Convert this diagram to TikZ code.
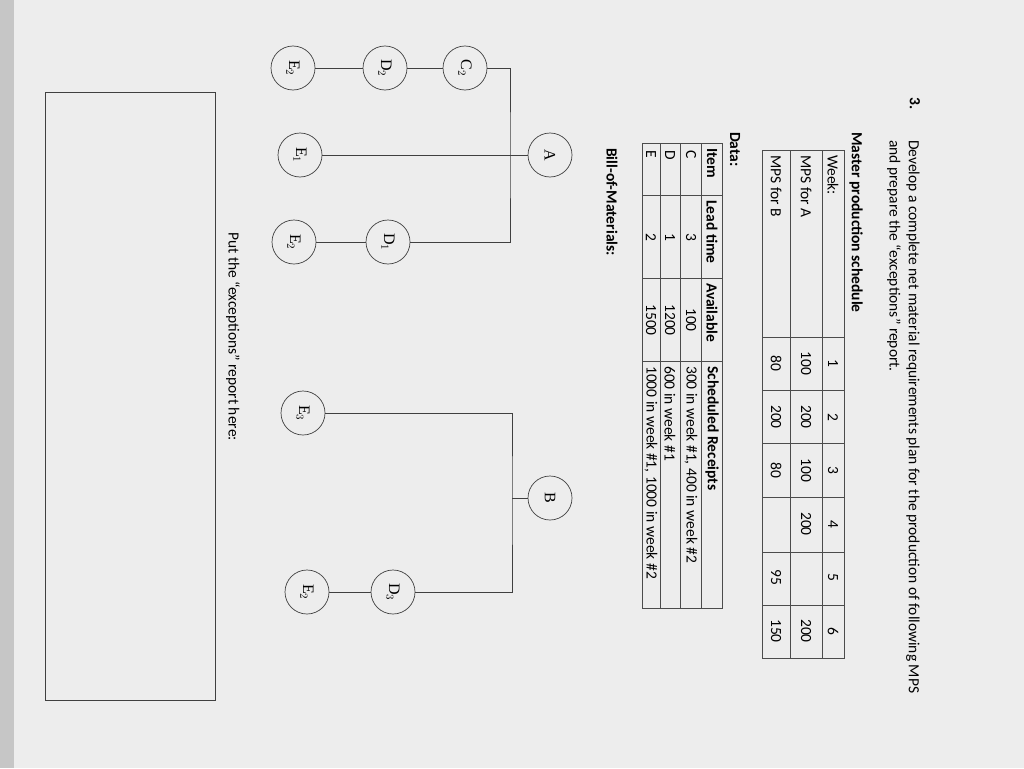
\documentclass[tikz,border=0pt]{standalone}
\usepackage{fontspec}
\setmainfont{Carlito}
\newfontfamily\serifb{Liberation Serif}
\begin{document}
\begin{tikzpicture}[x=1pt,y=-1pt,
  txt/.style={rotate=-90,anchor=west,inner sep=0pt,font=\fontsize{15.5}{17}\selectfont},
  bld/.style={txt,font=\fontsize{15.5}{17}\selectfont\bfseries},
  ctr/.style={txt,anchor=center},
  bom/.style={circle,draw=black!75,line width=0.7pt,minimum size=44pt,inner sep=0pt,rotate=-90,font=\serifb\fontsize{16}{17}\selectfont},
  ln/.style={draw=black!75,line width=0.7pt},
  grid/.style={draw=black!70,line width=0.7pt}]
\fill[gray!14] (0,0) rectangle (1024,768);
\fill[gray!45] (0,0) rectangle (14,768);
\useasboundingbox (0,0) rectangle (1024,768);
% heading
\node[bld] (num) at (915,97) {3.};
\node[txt] (l1) at (913,140) {Develop a complete net material requirements plan for the production of following MPS};
\node[txt] (l2) at (894,140) {and prepare the “exceptions” report.};
\node[bld] (mps) at (856,132) {Master production schedule};
% table 1
\draw[grid] (762,150) rectangle (844,658);
\foreach \x in {790,822} \draw[grid] (\x,150) -- (\x,658);
\foreach \y in {337,390,443,497,552,605} \draw[grid] (762,\y) -- (844,\y);
\node[txt] (w) at (833,155) {Week:};
\node[txt] (ma) at (806,155) {MPS for A};
\node[txt] (mb) at (776,155) {MPS for B};
\foreach \v [count=\i] in {1,2,3,4,5,6} \node[ctr] (w\i) at (833,310+53.5*\i) {\v};
\foreach \v [count=\i] in {100,200,100,200,,200} \node[ctr] (a\i) at (806,310+53.5*\i) {\v};
\foreach \v [count=\i] in {80,200,80,,95,150} \node[ctr] (b\i) at (776,310+53.5*\i) {\v};
% data
\node[bld] (data) at (735,132) {Data:};
\draw[grid] (642,143) rectangle (722,608);
\foreach \x in {660,680,701} \draw[grid] (\x,143) -- (\x,608);
\foreach \y in {195,278,361} \draw[grid] (642,\y) -- (722,\y);
\node[bld] (h1) at (712,148) {Item};
\node[bld] (h2) at (712,200) {Lead time};
\node[bld] (h3) at (712,283) {Available};
\node[bld] (h4) at (712,366) {Scheduled Receipts};
\node[txt] (c1) at (691,150) {C};
\node[txt] (d1t) at (670,150) {D};
\node[txt] (e1t) at (651,150) {E};
\node[ctr] (c2) at (691,237) {3};
\node[ctr] (d2t) at (670,237) {1};
\node[ctr] (e2t) at (651,237) {2};
\node[ctr] (c3) at (691,320) {100};
\node[ctr] (d3t) at (670,320) {1200};
\node[ctr] (e3t) at (651,320) {1500};
\node[txt] (c4) at (691,366) {300 in week \#1, 400 in week \#2};
\node[txt] (d4) at (670,366) {600 in week \#1};
\node[txt] (e4) at (651,366) {1000 in week \#1, 1000 in week \#2};
% BOM
\node[bld] (bomt) at (612,148) {Bill-of-Materials:};
\node[bom] (A) at (550,155) {A};
\node[bom] (C2) at (465,68) {C$_2$};
\node[bom] (D2) at (385,68) {D$_2$};
\node[bom] (E2a) at (293,68) {E$_2$};
\node[bom] (E1) at (300,155) {E$_1$};
\node[bom] (D1) at (388,242) {D$_1$};
\node[bom] (E2b) at (294,242) {E$_2$};
\node[bom] (B) at (550,498) {B};
\node[bom] (E3) at (303,413) {E$_3$};
\node[bom] (D3) at (393,592) {D$_3$};
\node[bom] (E2c) at (307,592) {E$_2$};
\coordinate (ja) at (510,155);
\coordinate (jb) at (512,498);
\draw[ln] (A) -- (E1);
\draw[ln] (C2) -| (ja) |- (D1);
\draw[ln] (C2) -- (D2) -- (E2a);
\draw[ln] (D1) -- (E2b);
\draw[ln] (B) -- (jb);
\draw[ln] (E3) -| (jb) |- (D3);
\draw[ln] (D3) -- (E2c);
% exceptions
\node[txt] (put) at (233,232) {Put the “exceptions” report here:};
\draw[ln] (45,92) rectangle (215,700);
\end{tikzpicture}
\end{document}
